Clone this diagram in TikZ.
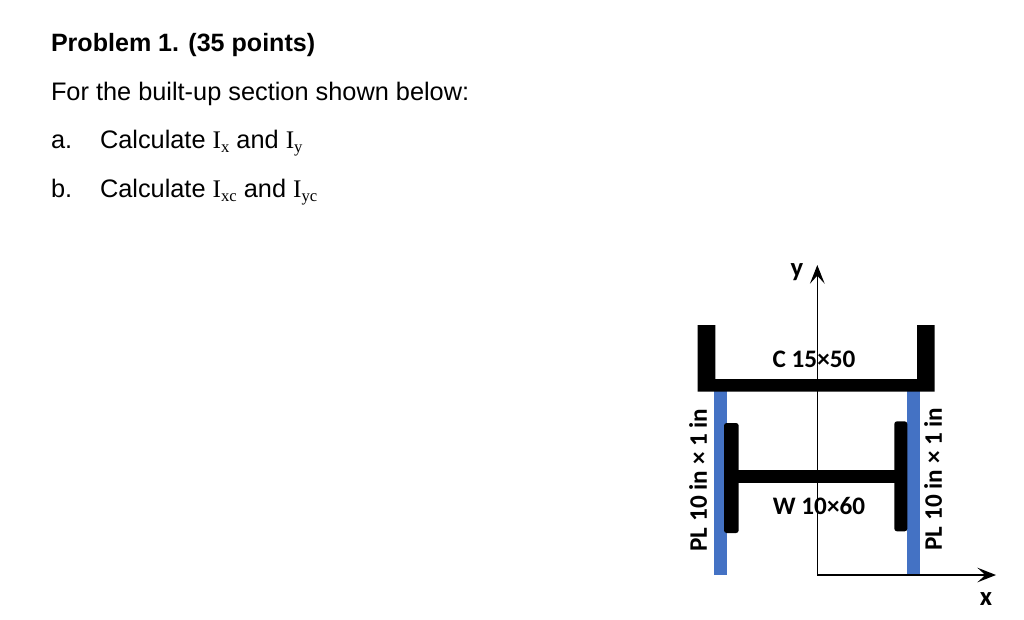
\documentclass[tikz,border=0pt]{standalone}
\usepackage{xcolor}
\usepackage{fontspec}
\usetikzlibrary{arrows.meta}
\setmainfont{Liberation Sans}
\newfontfamily\serifI{Liberation Serif}
\newfontfamily\calib{Carlito}
\definecolor{plateblue}{HTML}{4472C4}
\newcommand{\Isub}[1]{{\serifI I\raisebox{-0.15em}{\fontsize{12.5}{14}\selectfont #1}}}

\begin{document}
\begin{tikzpicture}[x=0.75pt,y=-0.75pt,line join=miter,
    every node/.style={inner sep=0pt,outer sep=0pt},
    para/.style={anchor=base west,font=\fontsize{19}{21}\selectfont},
    section/.style={font=\calib\bfseries\fontsize{18.9}{21}\selectfont,text=black},
    axislabel/.style={font=\calib\bfseries\fontsize{20}{21}\selectfont,text=black},
    steel/.style={fill=black,draw=none},
    plate/.style={fill=plateblue,draw=none},
    axis/.style={draw=black,line width=1.2pt,-{Stealth[length=14pt,width=11pt,inset=6pt]}}]
  \useasboundingbox (0,0) rectangle (1024,619);
  % problem text
  \node[para,font=\bfseries\fontsize{18.8}{21}\selectfont] (title) at (51,51.5) {Problem 1. (35 points)};
  \node[para] (intro) at (51,100.5) {For the built-up section shown below:};
  \node[para] (parta) at (51,148.5) {a.};
  \node[para] (texta) at (100,148.5) {Calculate \Isub{x} and \Isub{y}};
  \node[para] (partb) at (51,197.5) {b.};
  \node[para] (textb) at (100,197.5) {Calculate \Isub{xc} and \Isub{yc}};
  % plates
  \fill[plate] (713.7,391) rectangle (726.7,575);
  \fill[plate] (907.3,391) rectangle (920.3,575);
  % channel
  \fill[steel] (697.7,325) -- (715.3,325) -- (715.3,379) -- (917,379) -- (917,325) -- (934.7,325)
    -- (934.7,391.7) -- (697.7,391.7) -- cycle;
  % wide flange
  \fill[steel,rounded corners=2pt] (724,423) rectangle (738.7,533);
  \fill[steel,rounded corners=2pt] (894.3,421.3) rectangle (907.3,531.3);
  \fill[steel] (730,470.3) rectangle (900,483.3);
  % axes
  \coordinate (origin) at (817.3,575);
  \coordinate (yend) at (817.3,265);
  \coordinate (xend) at (996,575);
  \draw[axis] (origin) -- (yend);
  \draw[axis] (origin) -- (xend);
  \node[axislabel] (ylabel) at (797,272) {y};
  \node[axislabel] (xlabel) at (986,599) {x};
  % labels
  \node[section] (clabel) at (814,359) {C 15×50};
  \node[section] (wlabel) at (819,505.5) {W 10×60};
  \node[section,rotate=90] (plleft) at (698,480) {PL 10 in × 1 in};
  \node[section,rotate=90] (plright) at (933,479) {PL 10 in × 1 in};
\end{tikzpicture}
\end{document}
